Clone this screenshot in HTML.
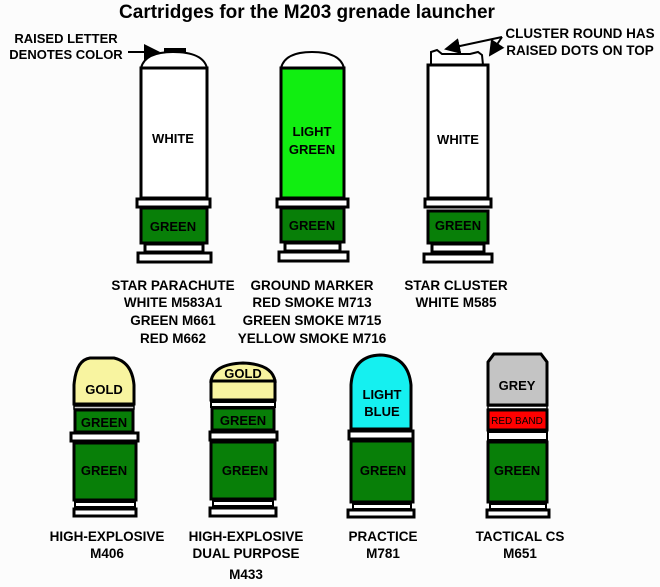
<!DOCTYPE html>
<html><head><meta charset="utf-8"><style>
html,body{margin:0;padding:0;background:#fcfcfc;}
svg{display:block;}
text{font-family:"Liberation Sans",sans-serif;font-weight:bold;fill:#000;}
</style></head><body>
<svg width="660" height="587" viewBox="0 0 660 587" xmlns="http://www.w3.org/2000/svg">
<defs><marker id="ah" markerWidth="8" markerHeight="8" refX="7" refY="4" orient="auto"><path d="M0,0 L8,4 L0,8 z" fill="#000"/></marker></defs>
<text x="307" y="18" font-size="19" text-anchor="middle">Cartridges for the M203 grenade launcher</text>
<text x="66" y="43" font-size="13" text-anchor="middle">RAISED LETTER</text>
<text x="66" y="59" font-size="13" text-anchor="middle">DENOTES COLOR</text>
<line x1="128" y1="52" x2="158" y2="52" stroke="#000" stroke-width="2" marker-end="url(#ah)"/>
<text x="580" y="38" font-size="13.5" text-anchor="middle">CLUSTER ROUND HAS</text>
<text x="580" y="55" font-size="13.5" text-anchor="middle">RAISED DOTS ON TOP</text>
<line x1="502" y1="37" x2="446" y2="49" stroke="#000" stroke-width="2" marker-end="url(#ah)"/>
<line x1="502" y1="37" x2="490" y2="55" stroke="#000" stroke-width="2" marker-end="url(#ah)"/>
<g stroke="#000" stroke-width="3">
<path d="M141,68 Q145,52 173,52 Q203,52 207,68 Z" fill="#fff" stroke-width="2"/>
<rect x="164" y="48" width="22" height="4" fill="#000" stroke="none"/>
<rect x="141" y="68" width="66" height="130" fill="#fff"/>
<rect x="137" y="199" width="73" height="8" fill="#fff"/>
<rect x="141" y="208" width="66" height="35" fill="#087f08"/>
<rect x="145" y="244" width="58" height="8" fill="#fff"/>
<rect x="138" y="253" width="73" height="9" fill="#fff"/>
<path d="M281,68 Q285,52 312,52 Q340,52 344,68 Z" fill="#fff" stroke-width="2"/>
<rect x="281" y="68" width="63" height="130" fill="#11ee11"/>
<rect x="277" y="199" width="71" height="8" fill="#fff"/>
<rect x="281" y="208" width="63" height="34" fill="#087f08"/>
<rect x="285" y="243" width="55" height="8" fill="#fff"/>
<rect x="279" y="252" width="69" height="9" fill="#fff"/>
<path d="M431,65 L431,52 L437,50 L442,54 L470,54 L478,52 L482,55 L483,65" fill="#fff" stroke-width="2"/>
<rect x="428" y="65" width="60" height="133" fill="#fff"/>
<rect x="425" y="199" width="66" height="8" fill="#fff"/>
<rect x="428" y="211" width="60" height="32" fill="#087f08"/>
<rect x="432" y="244" width="52" height="8" fill="#fff"/>
<rect x="424" y="254" width="68" height="8" fill="#fff"/>
<path d="M74,404 L74,385 Q76,360 90,358 L114,358 Q132,362 134,385 L134,404 Z" fill="#f8f4a0"/>
<rect x="74" y="406" width="60" height="3" fill="#ccc" stroke-width="1.5"/>
<rect x="75" y="410" width="58" height="22" fill="#087f08"/>
<rect x="71" y="433" width="67" height="8" fill="#fff"/>
<rect x="74" y="443" width="62" height="57" fill="#087f08"/>
<rect x="75" y="502" width="60" height="5" fill="#fff" stroke-width="2"/>
<rect x="74" y="509" width="62" height="7" fill="#fff"/>
<path d="M211,381 Q214,364 243,363 Q272,364 275,381 Z" fill="#f8f4a0"/>
<rect x="211" y="381" width="64" height="19" fill="#f8f4a0"/>
<rect x="211" y="402" width="64" height="5" fill="#fff" stroke-width="2"/>
<rect x="212" y="408" width="62" height="22" fill="#087f08"/>
<rect x="210" y="432" width="67" height="8" fill="#fff"/>
<rect x="211" y="442" width="64" height="57" fill="#087f08"/>
<rect x="213" y="501" width="60" height="5" fill="#fff" stroke-width="2"/>
<rect x="210" y="508" width="66" height="8" fill="#fff"/>
<path d="M351,429 L351,385 Q353,356 380,355 Q408,356 411,385 L411,429 Z" fill="#15f0f0"/>
<rect x="349" y="431" width="64" height="8" fill="#fff"/>
<rect x="351" y="441" width="62" height="61" fill="#087f08"/>
<rect x="353" y="504" width="58" height="5" fill="#fff" stroke-width="2"/>
<rect x="348" y="510" width="66" height="7" fill="#fff"/>
<path d="M488,405 L488,362 L494,354 L541,354 L547,362 L547,405 Z" fill="#c4c4c4"/>
<rect x="488" y="406" width="59" height="3" fill="#fff" stroke-width="1.5"/>
<rect x="488" y="410" width="59" height="20" fill="#ff0000"/>
<rect x="488" y="432" width="59" height="8" fill="#fff" stroke-width="2"/>
<rect x="488" y="442" width="59" height="60" fill="#087f08"/>
<rect x="490" y="504" width="56" height="5" fill="#fff" stroke-width="2"/>
<rect x="487" y="510" width="62" height="7" fill="#fff"/>
</g>
<g font-size="13" text-anchor="middle">
<text x="173" y="143">WHITE</text>
<text x="173" y="231">GREEN</text>
<text x="312" y="136">LIGHT</text>
<text x="312" y="154">GREEN</text>
<text x="312" y="230">GREEN</text>
<text x="458" y="144">WHITE</text>
<text x="458" y="230">GREEN</text>
<text x="104" y="394">GOLD</text>
<text x="104" y="427">GREEN</text>
<text x="104" y="475">GREEN</text>
<text x="243" y="378">GOLD</text>
<text x="243" y="425">GREEN</text>
<text x="245" y="475">GREEN</text>
<text x="382" y="399">LIGHT</text>
<text x="382" y="416">BLUE</text>
<text x="383" y="475">GREEN</text>
<text x="517" y="390">GREY</text>
<text x="517" y="424" font-size="10" style="font-weight:normal">RED BAND</text>
<text x="517" y="475">GREEN</text>
</g>
<g font-size="13.5" text-anchor="middle">
<text x="173" y="290">STAR PARACHUTE</text>
<text x="173" y="307">WHITE M583A1</text>
<text x="173" y="325">GREEN M661</text>
<text x="173" y="343">RED M662</text>
<text x="312" y="290">GROUND MARKER</text>
<text x="312" y="307">RED SMOKE M713</text>
<text x="312" y="325">GREEN SMOKE M715</text>
<text x="312" y="343">YELLOW SMOKE M716</text>
<text x="456" y="290">STAR CLUSTER</text>
<text x="456" y="307">WHITE M585</text>
<text x="107" y="541">HIGH-EXPLOSIVE</text>
<text x="107" y="558">M406</text>
<text x="246" y="541">HIGH-EXPLOSIVE</text>
<text x="246" y="558">DUAL PURPOSE</text>
<text x="246" y="579">M433</text>
<text x="383" y="541">PRACTICE</text>
<text x="383" y="558">M781</text>
<text x="520" y="541">TACTICAL CS</text>
<text x="520" y="558">M651</text>
</g>
</svg>
</body></html>
